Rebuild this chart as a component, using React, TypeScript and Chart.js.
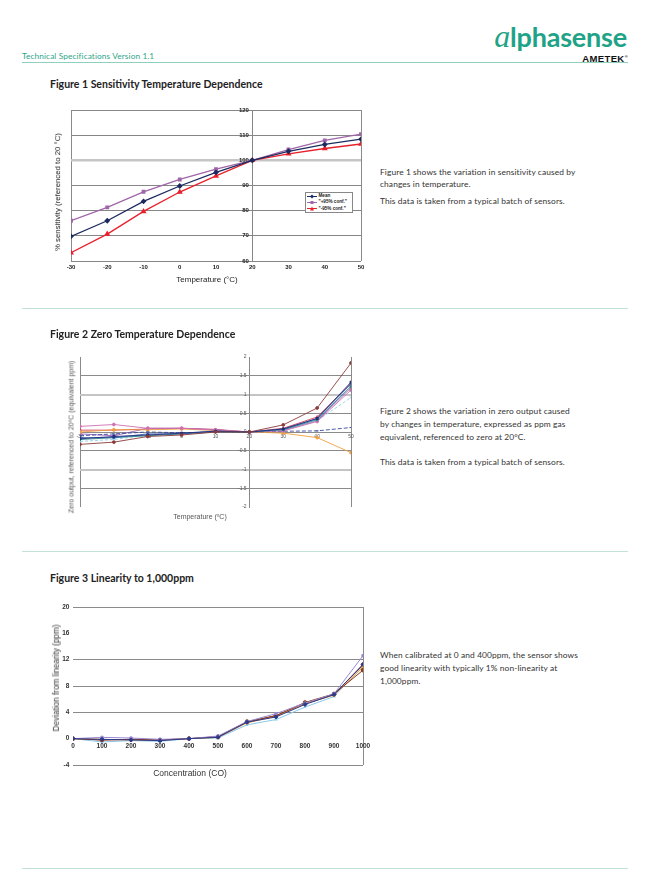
import React, { useEffect, useRef } from "react";
import { Chart, registerables } from "chart.js";
Chart.register(...registerables);

// ---------- Figure 1 data ----------
const fig1Temps = [-30, -20, -10, 0, 10, 20, 30, 40, 50];
const fig1Mean = [69.8, 76, 83.7, 89.8, 95.2, 100, 103.6, 106.3, 108.4];
const fig1Upper = [76, 81.3, 87.5, 92.4, 96.5, 100, 104.3, 107.9, 110.4];
const fig1Lower = [63.3, 70.7, 79.7, 87.4, 93.8, 100, 102.6, 104.7, 106.5];
const fig1Names = ["Mean", "\"+95% conf.\"", "\"-95% conf.\""];

// ---------- Figure 2 data ----------
const fig2Temps = [-30, -20, -10, 0, 10, 20, 30, 40, 50];
const fig2S1 = [-0.33, -0.27, -0.12, -0.08, 0.0, 0, 0.19, 0.64, 1.84];
const fig2S2 = [-0.18, -0.12, -0.08, -0.03, 0.02, 0, 0.08, 0.36, 1.33];
const fig2S3 = [-0.15, -0.15, -0.05, -0.05, 0.03, 0, 0.08, 0.36, 1.28];
const fig2S4 = [-0.2, -0.15, -0.1, -0.05, 0.0, 0, 0.06, 0.33, 1.22];
const fig2S5 = [0.15, 0.2, 0.1, 0.1, 0.05, 0, 0.03, 0.28, 1.12];
const fig2S6 = [-0.25, -0.2, -0.08, -0.05, 0.0, 0, 0.05, 0.3, 0.92];
const fig2S7 = [-0.1, -0.05, 0.0, -0.02, 0.0, 0, 0.02, 0.03, 0.12];
const fig2S8 = [0.0, 0.06, 0.06, 0.08, 0.04, 0, -0.03, -0.15, -0.55];
const fig2S9 = [-0.05, -0.1, 0.1, 0.1, 0.06, 0, 0.04, 0.3, 1.18];
const fig2S10 = [0.05, 0.05, 0.08, 0.1, 0.07, 0, 0.1, 0.4, 1.3];

// ---------- Figure 3 data ----------
const fig3Conc = [0, 100, 200, 300, 400, 500, 600, 700, 800, 900, 1000];
const fig3A = [0, -0.1, -0.2, -0.3, 0, 0.2, 2.5, 3.3, 5.2, 6.7, 11.3];
const fig3B = [0, 0.2, 0.1, -0.1, 0, 0.4, 2.6, 3.8, 5.4, 6.8, 12.6];
const fig3C = [0, -0.2, -0.1, -0.2, 0, 0.3, 2.6, 3.5, 5.5, 6.8, 10.4];
const fig3D = [0, -0.1, -0.2, -0.2, 0, 0.2, 2.4, 3.4, 5.3, 6.6, 10.9];
const fig3E = [0, -0.5, -0.3, -0.4, 0, 0.1, 2.1, 2.9, 4.8, 6.4, 11.0];
const fig3F = [0, -0.2, -0.1, -0.2, 0, 0.3, 2.5, 3.5, 5.3, 6.7, 11.2];

const CF = "'Liberation Sans', Arial, sans-serif";
const PF = "Lato, 'Open Sans', sans-serif";

const pts = (xs: number[], ys: number[]) => xs.map((x, i) => ({ x, y: ys[i] }));

function ChartBox(props: { left: number; top: number; width: number; height: number; config: any }) {
  const ref = useRef<HTMLCanvasElement | null>(null);
  useEffect(() => {
    if (!ref.current) return;
    const c = new Chart(ref.current, props.config);
    return () => c.destroy();
  }, []);
  return (
    <div style={{ position: "absolute", left: props.left, top: props.top, width: props.width, height: props.height }}>
      <canvas ref={ref} style={{ display: "block" }} />
    </div>
  );
}

const baseOpts = (padding: any) => ({
  responsive: true,
  maintainAspectRatio: false,
  animation: false,
  layout: { padding },
  plugins: { legend: { display: false }, tooltip: { enabled: false } },
  elements: { line: { tension: 0 } },
});

const fig1Config = {
  type: "line",
  data: {
    datasets: [
      { label: fig1Names[0], data: pts(fig1Temps, fig1Mean), borderColor: "#1c2a5e", backgroundColor: "#1c2a5e", borderWidth: 1.3, pointStyle: "rectRot", pointRadius: 2 },
      { label: fig1Names[1], data: pts(fig1Temps, fig1Upper), borderColor: "#a066a8", backgroundColor: "#a066a8", borderWidth: 1.3, pointStyle: "rect", pointRadius: 1.8 },
      { label: fig1Names[2], data: pts(fig1Temps, fig1Lower), borderColor: "#e8202a", backgroundColor: "#e8202a", borderWidth: 1.3, pointStyle: "triangle", pointRadius: 2.2 },
    ],
  },
  options: {
    ...baseOpts({ left: 31, top: 10, right: 19, bottom: 19 }),
    scales: {
      x: {
        type: "linear", min: -30, max: 50, position: { y: 60 },
        ticks: { stepSize: 10, padding: 3, color: "#222", font: { size: 6, weight: "bold", family: CF }, maxRotation: 0, autoSkip: false },
        grid: { drawTicks: false, color: (c: any) => (c.tick && (c.tick.value === -30 || c.tick.value === 50) ? "#8a8a8a" : "rgba(0,0,0,0)"), lineWidth: 1 },
        border: { display: false },
      },
      y: {
        type: "linear", min: 60, max: 120, position: { x: 20 },
        ticks: { stepSize: 10, color: "#222", font: { size: 6, weight: "bold", family: CF }, callback: (v: any) => v + "  " },
        grid: {
          drawTicks: false,
          color: (c: any) => (c.tick && c.tick.value === 100 ? "#c6c6c6" : "#868686"),
          lineWidth: (c: any) => (c.tick && c.tick.value === 100 ? 2.5 : 1),
        },
        border: { display: true, color: "#868686", width: 1 },
      },
    },
  },
};

const fig2Series = [
  { d: fig2S1, c: "#8b3a3a", p: "circle", dash: [] },
  { d: fig2S2, c: "#1f2f7a", p: "rect", dash: [] },
  { d: fig2S3, c: "#4060b0", p: "triangle", dash: [] },
  { d: fig2S4, c: "#2a8a8a", p: "rectRot", dash: [] },
  { d: fig2S5, c: "#d070b0", p: "circle", dash: [] },
  { d: fig2S6, c: "#8fd0e8", p: "crossRot", dash: [3, 2] },
  { d: fig2S7, c: "#3a4a9a", p: "line", dash: [4, 2] },
  { d: fig2S8, c: "#f0a040", p: "circle", dash: [] },
  { d: fig2S9, c: "#9a60c0", p: "rect", dash: [] },
  { d: fig2S10, c: "#d04060", p: "triangle", dash: [] },
];

const fig2Config = {
  type: "line",
  data: {
    datasets: fig2Series.map((s, i) => ({
      label: "Sensor " + (i + 1), data: pts(fig2Temps, s.d), borderColor: s.c, backgroundColor: s.c,
      borderWidth: 0.9, borderDash: s.dash, pointStyle: s.p, pointRadius: 1.4,
    })),
  },
  options: {
    ...baseOpts({ left: 30, top: 12, right: 19, bottom: 13 }),
    scales: {
      x: {
        type: "linear", min: -30, max: 50, position: { y: 0 },
        ticks: { stepSize: 10, padding: 2, color: "#555", font: { size: 5, family: CF }, maxRotation: 0, autoSkip: false },
        grid: { drawTicks: false, color: (c: any) => (c.tick && (c.tick.value === -30 || c.tick.value === 50) ? "#8a8a8a" : "rgba(0,0,0,0)"), lineWidth: 1 },
        border: { display: false },
      },
      y: {
        type: "linear", min: -2, max: 2, position: { x: 20 },
        ticks: { stepSize: 0.5, color: "#555", font: { size: 5, family: CF }, callback: (v: any) => v + "  " },
        grid: {
          drawTicks: false,
          color: (c: any) => {
            const v = c.tick ? c.tick.value : 0;
            if (v === 2 || v === -2) return "rgba(0,0,0,0)";
            if (v === 1 || v === -1) return "#c4c4c4";
            return "#8a8a8a";
          },
          lineWidth: (c: any) => (c.tick && (c.tick.value === 1 || c.tick.value === -1) ? 2 : 1),
        },
        border: { display: true, color: "#8a8a8a", width: 1 },
      },
    },
  },
};

const fig3Series = [
  { d: fig3A, c: "#2b3a8c", p: "rectRot", r: 2 },
  { d: fig3B, c: "#9a8ad0", p: "rect", r: 1.6 },
  { d: fig3C, c: "#8a3a1a", p: "circle", r: 1.8 },
  { d: fig3D, c: "#f0a030", p: "triangle", r: 1.8 },
  { d: fig3E, c: "#8ac8e8", p: "crossRot", r: 1.8 },
  { d: fig3F, c: "#a02040", p: "circle", r: 1.6 },
];

const fig3Config = {
  type: "line",
  data: {
    datasets: fig3Series.map((s, i) => ({
      label: "Sensor " + (i + 1), data: pts(fig3Conc, s.d), borderColor: s.c, backgroundColor: s.c,
      borderWidth: 1, pointStyle: s.p, pointRadius: s.r,
    })),
  },
  options: {
    ...baseOpts({ left: 33, top: 12, right: 17, bottom: 15 }),
    scales: {
      x: {
        type: "linear", min: 0, max: 1000, position: { y: 0 },
        ticks: { stepSize: 100, padding: 4, color: "#333", font: { size: 6.5, weight: "bold", family: CF }, maxRotation: 0, autoSkip: false, callback: (v: any) => String(v) },
        grid: { drawTicks: false, color: (c: any) => (c.tick && c.tick.value === 1000 ? "#8a8a8a" : "rgba(0,0,0,0)"), lineWidth: 1 },
        border: { display: false },
      },
      y: {
        type: "linear", min: -4, max: 20, position: { x: 0 },
        ticks: { stepSize: 4, color: "#333", font: { size: 6.5, weight: "bold", family: CF }, callback: (v: any) => v + "  " },
        grid: {
          drawTicks: false,
          color: (c: any) => (c.tick && (c.tick.value === 16 || c.tick.value === 0) ? "rgba(0,0,0,0)" : "#8a8a8a"),
          lineWidth: 1,
        },
        border: { display: false },
      },
    },
  },
};

const Txt = (p: { x: number; cy: number; size: number; children: any; color?: string; bold?: boolean; family?: string; style?: any }) => (
  <div
    style={{
      position: "absolute", left: p.x, top: p.cy - p.size * 0.6, fontSize: p.size, lineHeight: p.size * 1.2 + "px",
      color: p.color || "#333", fontWeight: p.bold ? 700 : 400, fontFamily: p.family || PF, whiteSpace: "nowrap", ...(p.style || {}),
    }}
  >
    {p.children}
  </div>
);

const Body = (p: { cy: number; children: any }) => (
  <Txt x={380} cy={p.cy} size={8.4} color="#333" style={{ letterSpacing: 0.1 }}>{p.children}</Txt>
);

const CTxt = (p: { cx: number; cy: number; size: number; children: any; rotate?: boolean; color?: string; bold?: boolean }) => (
  <div
    style={{
      position: "absolute", left: p.cx, top: p.cy, fontSize: p.size, lineHeight: 1, color: p.color || "#222",
      fontFamily: CF, fontWeight: p.bold ? 700 : 400, whiteSpace: "nowrap",
      transform: "translate(-50%,-50%)" + (p.rotate ? " rotate(-90deg)" : ""),
    }}
  >
    {p.children}
  </div>
);

const Rule = (p: { y: number; color: string }) => (
  <div style={{ position: "absolute", left: 22, top: p.y, width: 606, height: 1, background: p.color }} />
);

function LegendRow(p: { color: string; shape: string; label: string }) {
  let marker: any = null;
  if (p.shape === "rectRot") marker = <polygon points="5,0.5 7,2.5 5,4.5 3,2.5" fill={p.color} />;
  else if (p.shape === "rect") marker = <rect x="3.5" y="1" width="3" height="3" fill={p.color} />;
  else marker = <polygon points="5,0.5 7,4.5 3,4.5" fill={p.color} />;
  return (
    <div style={{ display: "flex", alignItems: "center", height: 6.2, whiteSpace: "nowrap" }}>
      <svg width="10" height="5" style={{ display: "block", marginRight: 1.5, flex: "none" }}>
        <line x1="0" y1="2.5" x2="10" y2="2.5" stroke={p.color} strokeWidth="1" />
        {marker}
      </svg>
      <span style={{ fontSize: 4.6, fontFamily: CF, fontWeight: 700, color: "#222", lineHeight: 1, whiteSpace: "nowrap" }}>{p.label}</span>
    </div>
  );
}

export default function App() {
  return (
    <div style={{ position: "absolute", left: 0, top: 0, width: 650, height: 881, background: "#fff", overflow: "hidden" }}>
      {/* header */}
      <Txt x={22} cy={57} size={8.3} color="#2fa58b" style={{ letterSpacing: 0.1 }}>Technical Specifications Version 1.1</Txt>
      <div style={{ position: "absolute", left: 22, top: 62, width: 606, height: 1, background: "#8fcfbd" }} />
      <div style={{ position: "absolute", right: 23, top: 21, fontSize: 27, lineHeight: "31px", fontWeight: 700, color: "#1fa386", fontFamily: PF, letterSpacing: -0.2 }}>
        <span style={{ fontFamily: "'Liberation Serif', serif", fontStyle: "italic", fontWeight: 400, fontSize: 32 }}>a</span>lphasense
      </div>
      <div style={{ position: "absolute", right: 22, top: 52, fontSize: 9.5, lineHeight: "10px", fontWeight: 900, color: "#111", fontFamily: CF, letterSpacing: 0.4 }}>
        AMETEK<sup style={{ fontSize: 4 }}>®</sup>
      </div>

      {/* Figure 1 */}
      <Txt x={50} cy={84} size={10.5} bold color="#222">Figure 1 Sensitivity Temperature Dependence</Txt>
      <ChartBox left={40} top={100} width={340} height={180} config={fig1Config} />
      <CTxt cx={58} cy={192} size={7.8} rotate>% sensitivity  (referenced to 20 °C)</CTxt>
      <CTxt cx={207} cy={280} size={8}>Temperature (°C)</CTxt>
      <div style={{ position: "absolute", left: 305, top: 192, width: 48, height: 21, border: "1px solid #888", background: "#fff", boxSizing: "border-box", padding: "0.5px 1px", overflow: "hidden" }}>
        <LegendRow color="#1c2a5e" shape="rectRot" label={fig1Names[0]} />
        <LegendRow color="#a066a8" shape="rect" label={fig1Names[1]} />
        <LegendRow color="#e8202a" shape="triangle" label={fig1Names[2]} />
      </div>
      <Body cy={172}>Figure 1 shows the variation in sensitivity caused by</Body>
      <Body cy={184}>changes in temperature.</Body>
      <Body cy={201}>This data is taken from a typical batch of sensors.</Body>
      <Rule y={308} color="#c3e3da" />

      {/* Figure 2 */}
      <Txt x={50} cy={334} size={10.5} bold color="#222">Figure 2 Zero Temperature Dependence</Txt>
      <ChartBox left={50} top={345} width={320} height={175} config={fig2Config} />
      <CTxt cx={71} cy={437} size={7} rotate color="#555">Zero output, referenced to 20ºC (equivalent ppm)</CTxt>
      <CTxt cx={200} cy={516} size={7} color="#555">Temperature (ºC)</CTxt>
      <Body cy={411}>Figure 2 shows the variation in zero output caused</Body>
      <Body cy={424}>by changes in temperature, expressed as ppm gas</Body>
      <Body cy={437}>equivalent, referenced to zero at 20°C.</Body>
      <Body cy={462}>This data is taken from a typical batch of sensors.</Body>
      <Rule y={551} color="#c3e3da" />

      {/* Figure 3 */}
      <Txt x={50} cy={578} size={10.5} bold color="#222">Figure 3 Linearity to 1,000ppm</Txt>
      <ChartBox left={40} top={595} width={340} height={185} config={fig3Config} />
      <CTxt cx={57} cy={678} size={8.2} rotate color="#333">Deviation from linearity (ppm)</CTxt>
      <CTxt cx={190} cy={773} size={8.5} color="#333">Concentration (CO)</CTxt>
      <Body cy={655}>When calibrated at 0 and 400ppm, the sensor shows</Body>
      <Body cy={668}>good linearity with typically 1% non-linearity at</Body>
      <Body cy={681}>1,000ppm.</Body>
      <Rule y={868} color="#c3e3da" />
    </div>
  );
}
